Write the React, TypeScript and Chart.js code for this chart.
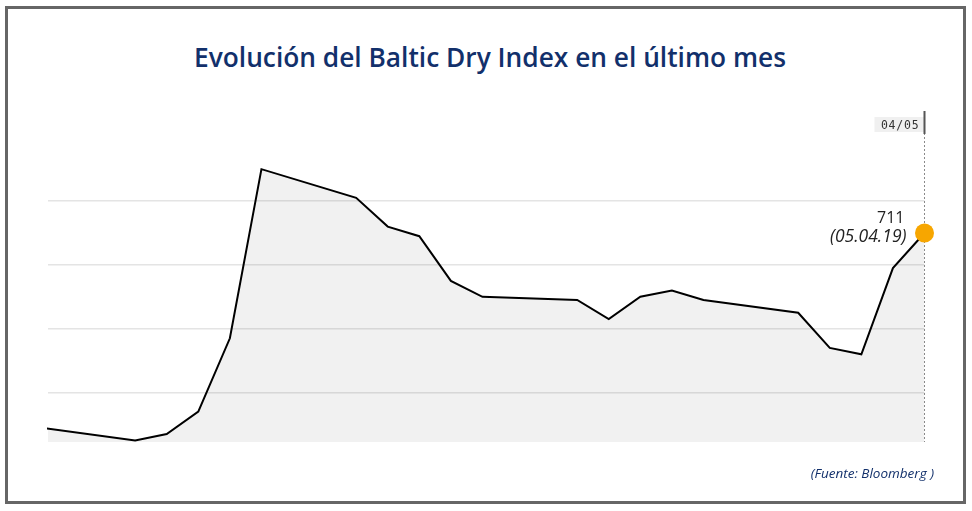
import React, { useEffect, useRef } from 'react';
import Chart from 'chart.js/auto';

// días desde el 1 de marzo de 2019 (1 = 01/03, 32 = 01/04)
const days = [8, 11, 12, 13, 14, 15, 18, 19, 20, 21, 22, 25, 26, 27, 28, 29, 32, 33, 34, 35, 36];
const bdiValues = [650, 646, 648, 655, 678, 731, 722, 713, 710, 696, 691, 690, 684, 691, 693, 690, 686, 675, 673, 700, 711];
const gridValues = [661, 681, 701, 721];
const lastDateTag = '04/05';
const lastDateLabel = '(05.04.19)';

const NAVY = '#12306b';
const ORANGE = '#f7a600';

const lastPointPlugin = {
  id: 'lastPoint',
  beforeDatasetsDraw(chart: any) {
    const { ctx, chartArea } = chart;
    const meta = chart.getDatasetMeta(0);
    const pt = meta.data[meta.data.length - 1];
    if (!pt) return;
    ctx.save();
    ctx.strokeStyle = '#8a8a8a';
    ctx.lineWidth = 1;
    ctx.setLineDash([2, 2]);
    ctx.beginPath();
    ctx.moveTo(pt.x, chartArea.top + 20);
    ctx.lineTo(pt.x, chartArea.bottom);
    ctx.stroke();
    ctx.restore();
  },
  afterDatasetsDraw(chart: any) {
    const { ctx, chartArea } = chart;
    const meta = chart.getDatasetMeta(0);
    const pt = meta.data[meta.data.length - 1];
    if (!pt) return;
    const top = chartArea.top;
    ctx.save();
    // etiqueta de fecha arriba
    ctx.fillStyle = '#f0f0f0';
    ctx.fillRect(pt.x - 50, top + 4, 50, 15);
    ctx.fillStyle = '#555';
    ctx.fillRect(pt.x - 1, top - 2, 2, 23);
    ctx.font = '11.5px "DejaVu Sans Mono"';
    (ctx as any).letterSpacing = '0.8px';
    ctx.fillStyle = '#333';
    ctx.textAlign = 'right';
    ctx.textBaseline = 'alphabetic';
    ctx.fillText(lastDateTag, pt.x - 5, top + 15.5);
    (ctx as any).letterSpacing = '0px';
    // valor y fecha del último dato
    const value = bdiValues[bdiValues.length - 1];
    ctx.fillStyle = '#222';
    ctx.font = '16px "Open Sans"';
    ctx.fillText(String(value), pt.x - 20, pt.y - 10);
    ctx.font = 'italic 17.5px "Open Sans"';
    ctx.fillText(lastDateLabel, pt.x - 18, pt.y + 9);
    ctx.restore();
  },
};

const App: React.FC = () => {
  const chartRef = useRef<HTMLCanvasElement | null>(null);

  useEffect(() => {
    if (!chartRef.current) return;
    const last = bdiValues.length - 1;
    const myChart = new Chart(chartRef.current, {
      type: 'line',
      data: {
        datasets: [{
          label: 'Baltic Dry Index',
          data: days.map((d, i) => ({ x: d, y: bdiValues[i] })),
          borderColor: '#000',
          borderWidth: 2,
          backgroundColor: 'rgba(0,0,0,0.055)',
          fill: 'start',
          tension: 0,
          pointRadius: (c: any) => (c.dataIndex === last ? 9.5 : 0),
          pointHoverRadius: 0,
          pointBackgroundColor: ORANGE,
          pointBorderWidth: 0,
          clip: { left: 1, top: false, right: false, bottom: 1 } as any,
        }],
      },
      options: {
        animation: false,
        responsive: true,
        maintainAspectRatio: false,
        layout: { padding: { left: 48, right: 47.5, top: 113, bottom: 69 } },
        plugins: {
          legend: { display: false },
          tooltip: { enabled: false },
          title: { display: false },
        },
        events: [],
        scales: {
          x: { type: 'linear', min: 8.24, max: 36, display: false },
          y: {
            min: 645.5,
            max: 748.6,
            afterBuildTicks: (axis: any) => {
              axis.ticks = gridValues.map((v) => ({ value: v }));
            },
            ticks: { display: false },
            grid: { color: '#e4e4e4', lineWidth: 1.5, drawTicks: false },
            border: { display: false },
          },
        },
      },
      plugins: [lastPointPlugin],
    });
    return () => myChart.destroy();
  }, []);

  return (
    <div style={{ position: 'fixed', left: 0, top: 0, width: 972, height: 511, background: '#fff', overflow: 'hidden' }}>
      <div style={{ position: 'absolute', left: 5, top: 6, width: 961, height: 498, border: '3px solid #666', boxSizing: 'border-box' }} />
      <div style={{
        position: 'absolute', left: 0, top: 40, width: 980, textAlign: 'center', whiteSpace: 'nowrap',
        fontFamily: '"Open Sans", sans-serif', fontWeight: 600, fontSize: 26.3, color: NAVY, lineHeight: '34px',
      }}>
        Evolución del Baltic Dry Index en el último mes
      </div>
      <div style={{ position: 'absolute', left: 0, top: 0, width: 972, height: 511 }}>
        <canvas ref={chartRef} />
      </div>
      <div style={{
        position: 'absolute', right: 972 - 934, top: 464, whiteSpace: 'nowrap',
        fontFamily: '"Open Sans", sans-serif', fontStyle: 'italic', fontSize: 13.5, color: NAVY, lineHeight: '18px',
      }}>
        (Fuente: Bloomberg )
      </div>
    </div>
  );
};

export default App;
